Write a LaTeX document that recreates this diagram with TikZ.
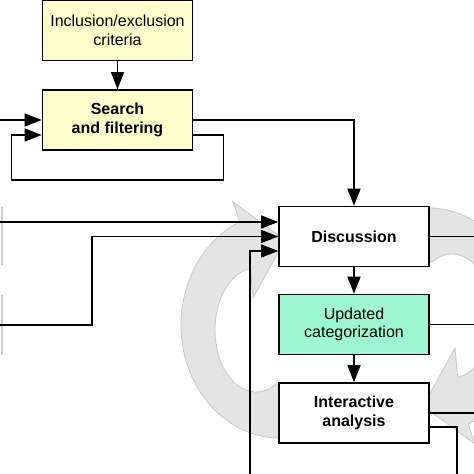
\documentclass[tikz,border=0pt]{standalone}
\usepackage{fontspec}
\setmainfont{Liberation Sans}
\usetikzlibrary{arrows.meta}
\definecolor{cream}{HTML}{FFFFCC}
\definecolor{mint}{HTML}{9CF7D2}
\definecolor{ringgray}{HTML}{E4E4E4}
\definecolor{ringedge}{HTML}{C8C8C8}
\definecolor{cutedge}{HTML}{CFCFCF}

\begin{document}
\begin{tikzpicture}[x=1pt,y=1pt,
  box/.style={draw, line width=1.6pt, minimum width=150pt, minimum height=60pt,
    align=center, font=\fontsize{16}{18.5}\selectfont},
  heavy/.style={box, font=\fontsize{16}{18.5}\selectfont\bfseries},
  link/.style={line width=1.2pt},
  arr/.style={link, -{Triangle[length=17pt,width=13pt]}}]
\useasboundingbox (0,0) rectangle (474,474);
% grey cycle behind the boxes
\foreach \r in {0,180}
  \filldraw[fill=ringgray, draw=ringedge, line width=0.8pt, rotate around={\r:(354,151)}]
    (343.6,62.4) arc[start angle=310, end angle=114, x radius=99, y radius=113]
    -- (233,272) -- (285,234) -- (253,176) -- (250.3,205.4)
    arc[start angle=98, end angle=300, x radius=41, y radius=62] -- cycle;
\draw[cutedge, line width=1.5pt] (2,267) -- (2,209) (2,179) -- (2,119);

\node[box, fill=cream] (inc) at (117.5,443.5) {Inclusion/exclusion\\criteria};
\node[heavy, fill=cream] (srch) at (117.5,354) {Search\\and filtering};
\node[heavy, fill=white] (disc) at (354,237.5) {Discussion};
\node[box, fill=mint] (upd) at (354,149.5) {Updated\\categorization};
\node[heavy, fill=white] (ia) at (354,61) {Interactive\\analysis};

\coordinate (feedA) at (0,354);
\coordinate (feedB) at (0,252);
\coordinate (feedC) at (0,149);
\coordinate (feedD) at (250,0);
\coordinate (outA) at (474,237.5);
\coordinate (outB) at (474,149.5);
\coordinate (outC) at (474,61);
\coordinate (outD) at (457,0);

\draw[arr] (inc) -- (srch);
\draw[arr] (feedA) -- (srch.west);
\draw[arr] ([yshift=-15pt]srch.east) -- ++(30,0) -- ++(0,-45)
  -| ([xshift=-30pt,yshift=-15pt]srch.west) -- ([yshift=-15pt]srch.west);
\draw[arr] (srch.east) -| (disc.north);
\draw[arr] (feedB) -- (feedB -| disc.west);
\draw[arr] (feedC) -- ++(92,0) |- (disc.west);
\draw[arr] (feedD) |- ([yshift=-14.5pt]disc.west);
\draw[arr] (disc) -- (upd);
\draw[arr] (upd) -- (ia);
\draw[link] (disc.east) -- (outA);
\draw[link] (upd.east) -- (outB);
\draw[link] (ia.east) -- (outC);
\draw[link] ([yshift=-14pt]ia.east) -| (outD);
\end{tikzpicture}
\end{document}
